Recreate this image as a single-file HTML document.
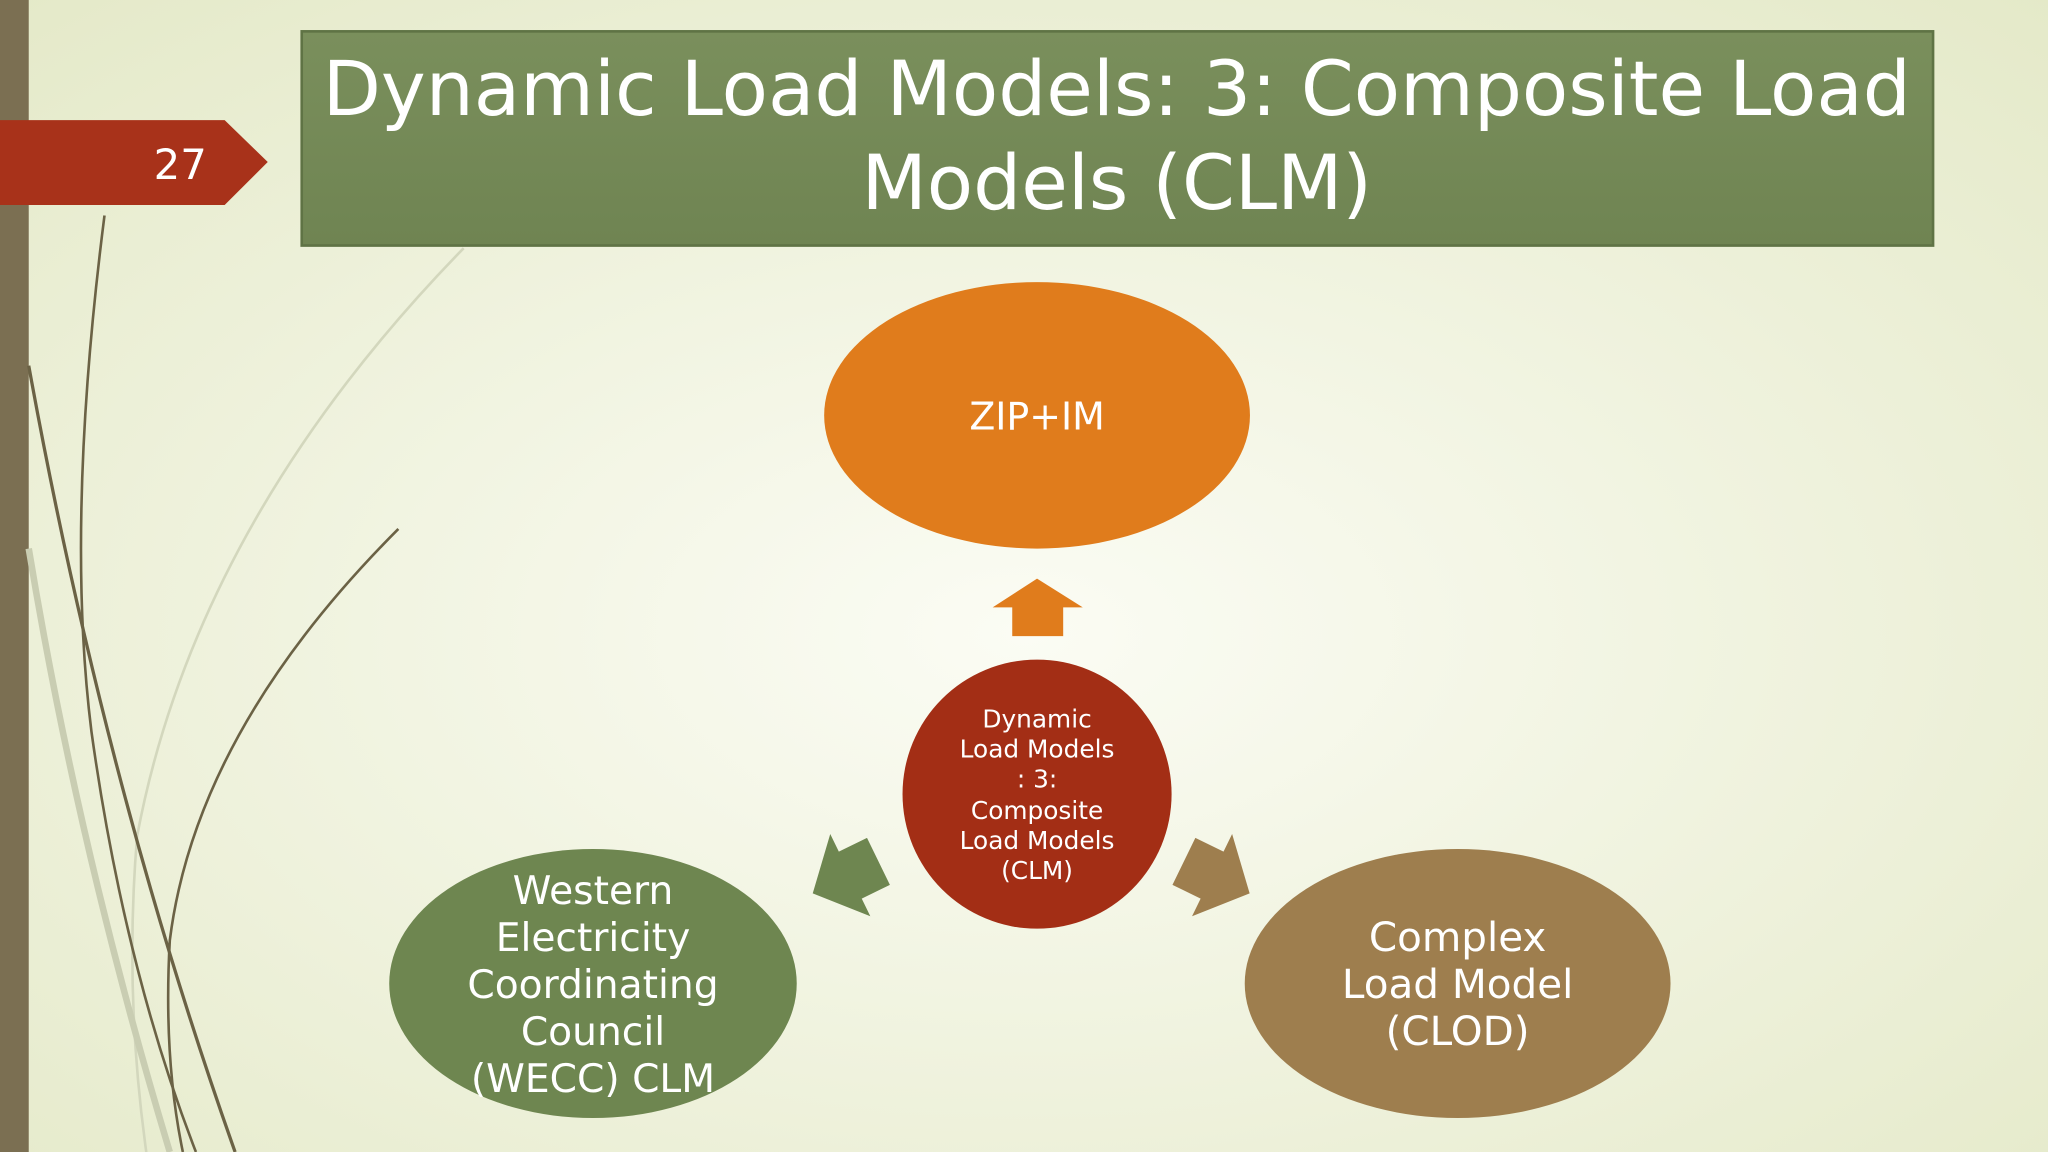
<!DOCTYPE html>
<html><head><meta charset="utf-8"><style>
html,body{margin:0;padding:0;width:2048px;height:1152px;overflow:hidden;background:#eef1de}
svg{display:block}
text{font-family:"DejaVu Sans","Liberation Sans",sans-serif;fill:#fff;text-anchor:middle}
</style></head><body>
<svg width="2048" height="1152" viewBox="0 0 1568 882" xmlns="http://www.w3.org/2000/svg">
<defs>
<radialGradient id="bg" cx="0.5" cy="0.55" r="0.75">
<stop offset="0" stop-color="#fbfcf4"/><stop offset="1" stop-color="#e4e9c8"/>
</radialGradient>
<linearGradient id="tb" x1="0" y1="0" x2="0" y2="1">
<stop offset="0" stop-color="#7a8f5c"/><stop offset="1" stop-color="#6f8452"/>
</linearGradient>
</defs>
<rect width="1568" height="882" fill="url(#bg)"/>
<rect x="0" y="0" width="22" height="882" fill="#7b6f52"/>
<path d="M355 190 Q150 400 105 640 Q95 760 112 882" fill="none" stroke="#d3d7bd" stroke-width="2"/>
<path d="M22 420 Q60 650 130 882" fill="none" stroke="#c9cdb2" stroke-width="5"/>
<path d="M80 165 Q50 400 70 560 Q95 740 150 882" fill="none" stroke="#6b6245" stroke-width="2"/>
<path d="M22 280 Q80 600 180 882" fill="none" stroke="#6b6245" stroke-width="2.5"/>
<path d="M305 405 Q150 560 130 720 Q125 810 140 882" fill="none" stroke="#6b6245" stroke-width="2"/>
<polygon points="0,92 172,92 205,124 172,157 0,157" fill="#a8321a"/>
<text x="138" y="137" font-size="32">27</text>
<rect x="231" y="24" width="1249" height="164" fill="url(#tb)" stroke="#5f7345" stroke-width="2"/>
<text x="855" y="88" font-size="58">Dynamic Load Models: 3: Composite Load</text>
<text x="855" y="160" font-size="58">Models (CLM)</text>
<ellipse cx="794" cy="318" rx="163" ry="102" fill="#e07c1c"/>
<text x="794" y="329" font-size="29">ZIP+IM</text>
<polygon points="794,443 829,465 814,465 814,487 775,487 775,465 760,465" fill="#e07c1c"/>
<circle cx="794" cy="608" r="103" fill="#a32e15"/>
<g font-size="19">
<text x="794" y="557">Dynamic</text>
<text x="794" y="580">Load Models</text>
<text x="794" y="603">: 3:</text>
<text x="794" y="627">Composite</text>
<text x="794" y="650">Load Models</text>
<text x="794" y="673">(CLM)</text>
</g>
<g transform="translate(651,670) rotate(-116)">
<polygon points="0,-32 35,0 20,0 20,24 -20,24 -20,0 -35,0" fill="#6e8650"/>
</g>
<g transform="translate(928,670) rotate(116)">
<polygon points="0,-32 35,0 20,0 20,24 -20,24 -20,0 -35,0" fill="#9e7e4e"/>
</g>
<ellipse cx="454" cy="753" rx="156" ry="103" fill="#6e8650"/>
<g font-size="30">
<text x="454" y="692">Western</text>
<text x="454" y="728">Electricity</text>
<text x="454" y="764">Coordinating</text>
<text x="454" y="800">Council</text>
<text x="454" y="836">(WECC) CLM</text>
</g>
<ellipse cx="1116" cy="753" rx="163" ry="103" fill="#9e7e4e"/>
<g font-size="31">
<text x="1116" y="728">Complex</text>
<text x="1116" y="764">Load Model</text>
<text x="1116" y="800">(CLOD)</text>
</g>
</svg>
</body></html>
